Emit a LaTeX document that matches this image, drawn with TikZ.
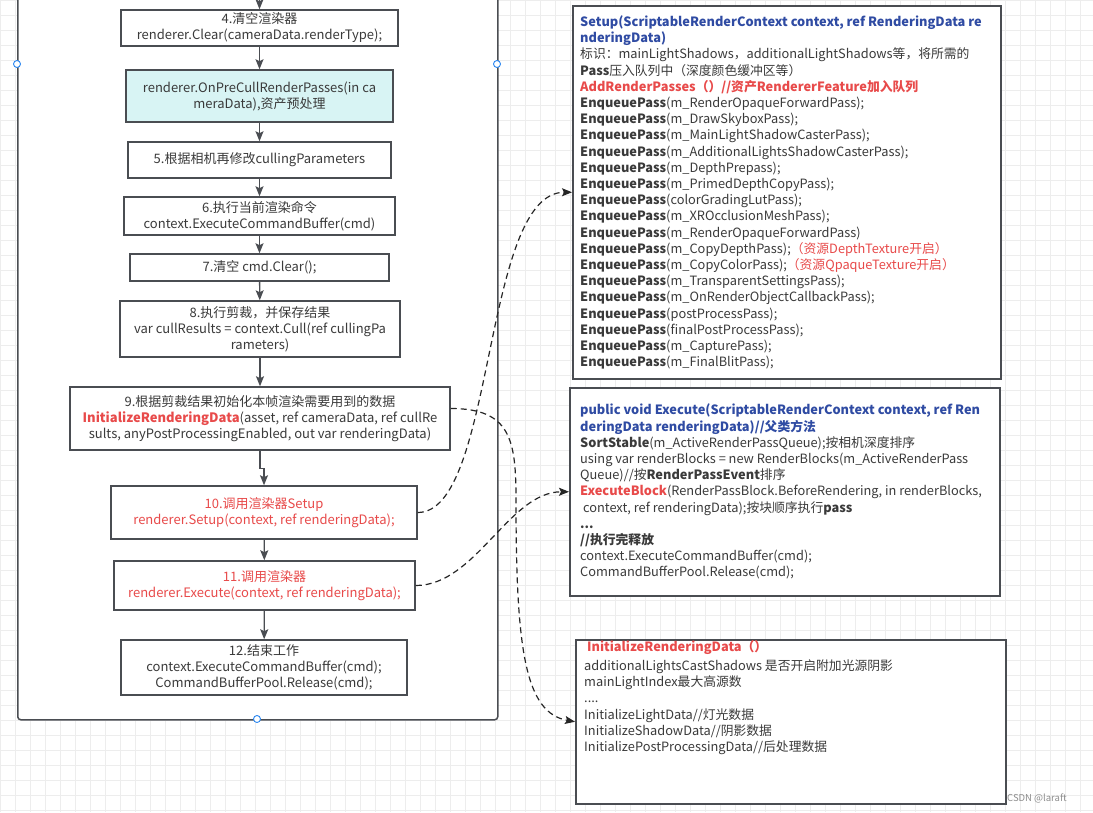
\documentclass[tikz,border=0pt]{standalone}
\usepackage{fontspec}
\setmainfont{Noto Sans CJK SC}
\usetikzlibrary{arrows.meta}
\definecolor{txt}{HTML}{3A3A3A}
\definecolor{boxline}{HTML}{4A4D52}
\definecolor{alert}{HTML}{E84A4A}
\definecolor{heading}{HTML}{2F4BA3}
\definecolor{cyanfill}{HTML}{D8F4F4}
\definecolor{handleblue}{HTML}{2A86F0}
\definecolor{gridgray}{HTML}{EDEDED}
\newcommand\flowfont{\fontsize{13}{16}\selectfont}
\newcommand\listfont{\fontsize{12.8}{16.2}\selectfont}
\newcommand\enq[1]{\textbf{EnqueuePass}(#1}

\begin{document}
\begin{tikzpicture}[x=1pt, y=-1pt,
  stepbox/.style={draw=boxline, line width=1.5pt, fill=white, align=center, inner sep=2pt, font=\flowfont, text=txt},
  panel/.style={draw=boxline, line width=1.5pt, fill=white, inner sep=0pt},
  listtext/.style={align=left, inner sep=0pt, font=\listfont, text=txt, anchor=north west},
  frame/.style={draw=boxline, line width=1.5pt, fill=white, rounded corners=3pt, inner sep=0pt, anchor=north west},
  handle/.style={circle, draw=handleblue, fill=white, line width=0.9pt, inner sep=0pt, minimum size=7pt},
  flow/.style={draw=boxline, line width=1.3pt, -{Stealth[length=10pt, width=8pt, inset=2pt]}},
  link/.style={draw=black!85, line width=1.2pt, dash pattern=on 6pt off 4pt, -{Stealth[length=10pt, width=8pt, inset=2pt]}}]
\useasboundingbox (0,0) rectangle (1093,812);
\draw[gridgray, line width=0.6pt] (0,0) grid[step=15pt] (1093,812);

\node[frame, minimum width=480pt, minimum height=739pt] (pipeline) at (17,-20) {};
\node[handle] (hleft) at (17,64) {};
\node[handle] (hright) at (497,64) {};
\node[handle] (hbottom) at (257,719) {};

\coordinate (entry) at (259.5,-2);
\node[stepbox, minimum width=277pt, minimum height=36pt] (clear) at (259.5,28) {4.清空渲染器\\renderer.Clear(cameraData.renderType);};
\node[stepbox, fill=cyanfill, minimum width=267pt, minimum height=52pt] (precull) at (259.5,96) {renderer.OnPreCullRenderPasses(in ca\\meraData),资产预处理};
\node[stepbox, minimum width=263pt, minimum height=36pt] (cullparam) at (259.5,160) {5.根据相机再修改cullingParameters};
\node[stepbox, minimum width=271pt, minimum height=38pt] (execmd) at (259.5,216) {6.执行当前渲染命令\\context.ExecuteCommandBuffer(cmd)};
\node[stepbox, minimum width=259pt, minimum height=27pt] (clearcmd) at (259.5,267.5) {7.清空 cmd.Clear();};
\node[stepbox, minimum width=280pt, minimum height=56pt] (cull) at (260,329) {8.执行剪裁，并保存结果\\var cullResults = context.Cull(ref cullingPa\\rameters)};
\node[stepbox, minimum width=380pt, minimum height=63pt] (initdata) at (260,418.5) {9.根据剪裁结果初始化本帧渲染需要用到的数据\\\textcolor{alert}{\textbf{InitializeRenderingData}}(asset, ref cameraData, ref cullRe\\sults, anyPostProcessingEnabled, out var renderingData)};
\node[stepbox, text=alert, minimum width=306pt, minimum height=53pt] (setup) at (264,512.5) {10.调用渲染器Setup\\renderer.Setup(context, ref renderingData);};
\node[stepbox, text=alert, minimum width=301pt, minimum height=49pt] (execute) at (264.5,585.5) {11.调用渲染器\\renderer.Execute(context, ref renderingData);};
\node[stepbox, minimum width=286pt, minimum height=55pt] (finish) at (264,667.5) {12.结束工作\\context.ExecuteCommandBuffer(cmd);\\CommandBufferPool.Release(cmd);};

\node[panel, anchor=north west, minimum width=428pt, minimum height=373pt] (setupbox) at (572,5) {};
\node[listtext] (setuptext) at (580,15.5) {\textcolor{heading}{\textbf{Setup(ScriptableRenderContext context, ref RenderingData re}}\\
\textcolor{heading}{\textbf{nderingData)}}\\
标识：mainLightShadows，additionalLightShadows等，将所需的\\
\textbf{Pass}压入队列中（深度颜色缓冲区等）\\
\textcolor{alert}{\textbf{AddRenderPasses（）//资产RendererFeature加入队列}}\\
\enq{m\_RenderOpaqueForwardPass);}\\
\enq{m\_DrawSkyboxPass);}\\
\enq{m\_MainLightShadowCasterPass);}\\
\enq{m\_AdditionalLightsShadowCasterPass);}\\
\enq{m\_DepthPrepass);}\\
\enq{m\_PrimedDepthCopyPass);}\\
\enq{colorGradingLutPass);}\\
\enq{m\_XROcclusionMeshPass);}\\
\enq{m\_RenderOpaqueForwardPass)}\\
\enq{m\_CopyDepthPass);}\textcolor{alert}{（资源DepthTexture开启）}\\
\enq{m\_CopyColorPass);}\textcolor{alert}{（资源QpaqueTexture开启）}\\
\enq{m\_TransparentSettingsPass);}\\
\enq{m\_OnRenderObjectCallbackPass);}\\
\enq{postProcessPass);}\\
\enq{finalPostProcessPass);}\\
\enq{m\_CapturePass);}\\
\enq{m\_FinalBlitPass);}};

\node[panel, anchor=north west, minimum width=430pt, minimum height=208pt] (executebox) at (569,387) {};
\node[listtext] (executetext) at (580,404) {\textcolor{heading}{\textbf{public void Execute(ScriptableRenderContext context, ref Ren}}\\
\textcolor{heading}{\textbf{deringData renderingData)//父类方法}}\\
\textbf{SortStable}(m\_ActiveRenderPassQueue);按相机深度排序\\
using var renderBlocks = new RenderBlocks(m\_ActiveRenderPass\\
Queue)//按\textbf{RenderPassEvent}排序\\
\textcolor{alert}{\textbf{ExecuteBlock}}(RenderPassBlock.BeforeRendering, in renderBlocks,\\
\ context, ref renderingData);按块顺序执行\textbf{pass}\\
\textbf{...}\\
\textbf{//执行完释放}\\
context.ExecuteCommandBuffer(cmd);\\
CommandBufferPool.Release(cmd);};

\node[panel, anchor=north west, minimum width=430pt, minimum height=164pt] (initbox) at (575,639) {};
\node[listtext] (inittext) at (584,640) {\textcolor{alert}{\textbf{\ InitializeRenderingData（）}}\\[3pt]
additionalLightsCastShadows 是否开启附加光源阴影\\
mainLightIndex最大高源数\\
....\\
InitializeLightData//灯光数据\\
InitializeShadowData//阴影数据\\
InitializePostProcessingData//后处理数据};

\node[text=black!45, font=\fontsize{9.5}{11}\selectfont, anchor=west, inner sep=0pt] (watermark) at (1007,798) {CSDN @laraft};

\draw[flow] (entry) -- (clear);
\draw[flow] (clear) -- (precull);
\draw[flow] (precull) -- (cullparam);
\draw[flow] (cullparam) -- (execmd);
\draw[flow] (execmd) -- (clearcmd);
\draw[flow] (clearcmd) -- (cull);
\draw[flow] (cull) -- (initdata);
\draw[flow] (initdata.south) -- ++(0,18) -| (setup.north);
\draw[flow] (setup) -- (execute);
\draw[flow] (execute) -- (finish);

\draw[link] (setup.east) .. controls +(78,0) and +(-90,0) .. (setupbox.west);
\draw[link] (execute.east) .. controls +(60,0) and +(-60,0) .. (executebox.west);
\draw[link] ([yshift=10pt]initdata.east) .. controls +(60,0) and +(0,-60) .. (516,500) .. controls +(0,150) and +(-50,-9) .. (initbox.west);
\end{tikzpicture}
\end{document}
